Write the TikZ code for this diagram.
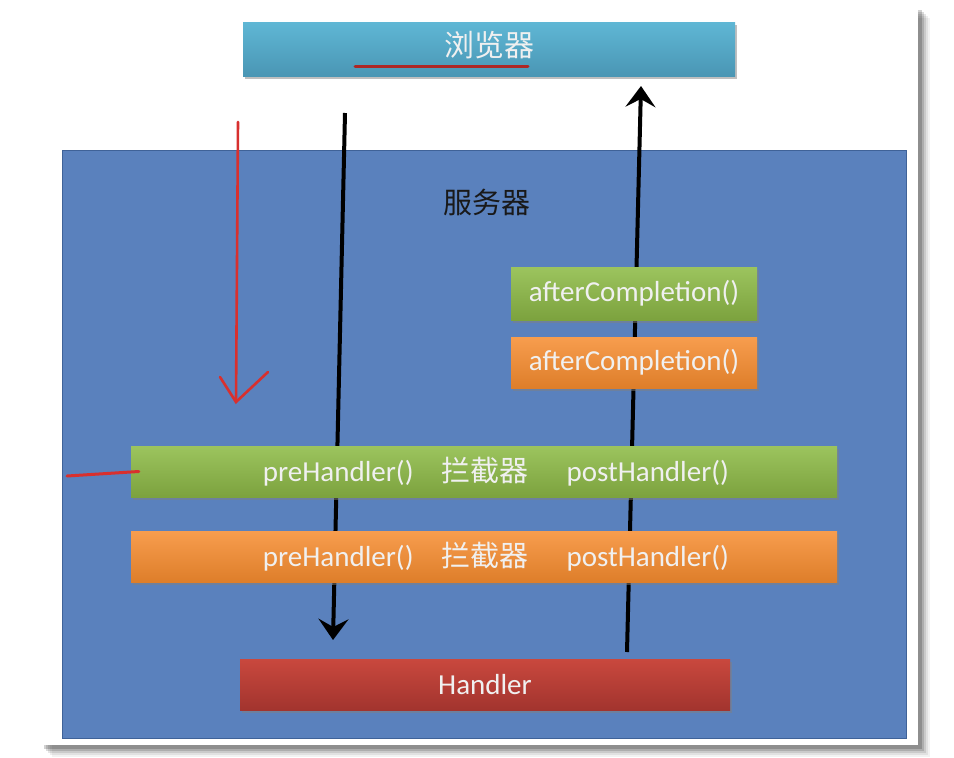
\documentclass[tikz,border=0pt]{standalone}
\usepackage{fontspec}
\setmainfont{Carlito}
\newfontfamily\cjk{Noto Sans CJK SC}
\usetikzlibrary{arrows.meta,shadows}

\definecolor{srvblue}{HTML}{5A81BD}
\definecolor{srvedge}{HTML}{3F6298}
\definecolor{skytop}{HTML}{5FB7D5}
\definecolor{skybot}{HTML}{4A96B4}
\definecolor{grntop}{HTML}{9CC45E}
\definecolor{grnbot}{HTML}{7CA23E}
\definecolor{orgtop}{HTML}{F79D4E}
\definecolor{orgbot}{HTML}{DE7E2A}
\definecolor{redtop}{HTML}{C9483E}
\definecolor{redbot}{HTML}{A2342E}
\definecolor{inkred}{HTML}{D8302E}

\tikzset{
  bar/.style={rectangle, inner sep=0pt, text=white!94!black,
    font=\fontsize{29}{30}\selectfont,
    drop shadow={shadow xshift=1.5pt, shadow yshift=-3pt, opacity=.5}},
  greenbar/.style={bar, top color=grntop, bottom color=grnbot},
  orangebar/.style={bar, top color=orgtop, bottom color=orgbot},
  flow/.style={line width=4pt, -{Stealth[length=21pt,width=30pt,inset=8pt]}},
  pen/.style={inkred, line width=2.6pt, line cap=round}
}

\begin{document}
\begin{tikzpicture}[x=1pt,y=-1pt]
  \useasboundingbox (0,0) rectangle (954,758);
  % page and its shadow
  \foreach \d/\o in {12/.05, 10/.07, 8/.10, 6/.14, 4/.18} {
    \fill [black, opacity=\o] (40+\d,6+\d) rectangle (918+\d,745+\d);
  }
  \fill [white] (40,6) rectangle (918,745);

  \node (server) [rectangle, fill=srvblue, draw=srvedge, line width=1pt,
    minimum width=844pt, minimum height=588pt, inner sep=0pt] at (484,444) {};
  \node (servtxt) [font=\cjk\fontsize{29}{30}\selectfont, text=black!90]
    at (487,202) {服务器};

  % request and response paths
  \coordinate (downtop) at (345,113);
  \coordinate (downend) at (333,640);
  \coordinate (upstart) at (627,652);
  \coordinate (upend) at (641,86);
  \draw [flow] (downtop) -- (downend);
  \draw [flow] (upstart) -- (upend);

  \node (browser) [bar, top color=skytop, bottom color=skybot,
    minimum width=492pt, minimum height=54pt,
    font=\cjk\fontsize{30}{31}\selectfont] at (489,49) {\raisebox{11pt}{浏览器}};

  \node (after1) [greenbar, minimum width=246pt, minimum height=53pt]
    at (634,293.5) {afterCompletion()};
  \node (after2) [orangebar, minimum width=246pt, minimum height=51pt]
    at (634,362.5) {afterCompletion()};

  \foreach \nm/\st/\y in {inter1/greenbar/471.5, inter2/orangebar/556.5} {
    \node (\nm) [\st, minimum width=706pt, minimum height=51pt] at (484,\y)
      {\hspace*{24pt}preHandler()\hspace{28pt}{\cjk 拦截器}\hspace{38pt}postHandler()};
  }

  \node (handler) [bar, top color=redtop, bottom color=redbot,
    minimum width=490pt, minimum height=51pt] at (485,684.5) {Handler};

  % red pen marks
  \coordinate (ulA) at (355,66);
  \coordinate (ulB) at (528,66);
  \draw [pen, inkred!80!black, line width=3pt] (ulA) -- (ulB);
  \coordinate (penTop) at (238,122);
  \coordinate (penTip) at (236,402);
  \draw [pen] (penTop) -- (penTip);
  \draw [pen] (220,377) -- (penTip) -- (268,372);
  \coordinate (tickA) at (67,476);
  \draw [pen, line width=3pt] (tickA) -- ([xshift=8pt]inter1.west);
\end{tikzpicture}
\end{document}
